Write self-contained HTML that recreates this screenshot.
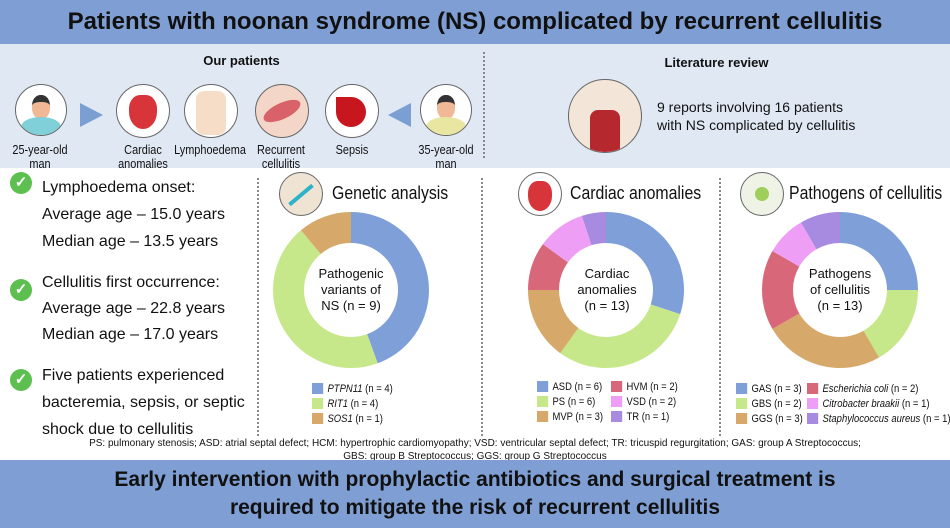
<!DOCTYPE html>
<html><head><meta charset="utf-8">
<style>
*{margin:0;padding:0;box-sizing:border-box}
body{width:950px;height:528px;overflow:hidden;background:#fff;font-family:"Liberation Sans",sans-serif;color:#111;position:relative}
.abs{position:absolute}
.title{left:0;top:0;width:950px;height:44px;background:#7f9fd4;font-weight:bold;font-size:24px;text-align:center;line-height:44px}
.band{left:0;top:44px;width:950px;height:124px;background:#e0e8f4}
.bottom{left:0;top:460px;width:950px;height:68px;background:#7f9fd4;font-weight:bold;font-size:21px;text-align:center;line-height:28px;padding-top:6px}
.circ{border-radius:50%;border:1.5px solid #666;background:#fff;overflow:hidden}
.cap{font-size:13px;text-align:center;line-height:14px;width:90px;transform:scaleX(0.84);white-space:nowrap}
.lt{font-size:16px;left:42px}
.chk{width:22px;height:22px;border-radius:50%;background:#5cbf4f;left:10px;color:#fff;font-weight:bold;font-size:15px;text-align:center;line-height:22px}
.dot{border-left:2px dotted #888}
.sect{font-size:18px;white-space:nowrap;transform:scaleX(0.88);transform-origin:left center}
.leg{font-size:11px;line-height:12px;white-space:nowrap;transform:scaleX(0.86);transform-origin:left top}
.sq{display:inline-block;width:13px;height:11px;vertical-align:-2px;margin-right:5px}
.foot{font-size:10px;text-align:center;width:950px;left:0}
</style></head><body>
<div class="abs title">Patients with noonan syndrome (NS) complicated by recurrent cellulitis</div>
<div class="abs band"></div>
<div class="abs dot" style="left:483px;top:52px;height:106px"></div>
<div class="abs" style="left:0;top:53px;width:483px;text-align:center;font-weight:bold;font-size:13px">Our patients</div>
<div class="abs" style="left:483px;top:55px;width:467px;text-align:center;font-weight:bold;font-size:13px">Literature review</div>

<div class="abs circ" style="left:15px;top:84px;width:52px;height:52px"><div style="margin:10px auto 0;width:18px;height:24px;border-radius:45%;background:#f0b895;border-top:7px solid #333"></div><div style="margin:-2px auto 0;width:40px;height:20px;border-radius:50% 50% 0 0;background:#7fd0d8"></div></div>
<div class="abs cap" style="left:-5px;top:143px">25-year-old<br>man</div>
<div class="abs" style="left:80px;top:103px;width:0;height:0;border-top:12px solid transparent;border-bottom:12px solid transparent;border-left:23px solid #7b9fd3"></div>
<div class="abs circ" style="left:116px;top:84px;width:54px;height:54px;background:#fff"><div style="margin:10px auto;width:28px;height:34px;border-radius:40% 40% 50% 50%;background:#d8353a"></div></div>
<div class="abs cap" style="left:98px;top:143px">Cardiac<br>anomalies</div>
<div class="abs circ" style="left:184px;top:84px;width:54px;height:54px"><div style="margin:6px auto;width:30px;height:44px;background:#f6ddc8;border-radius:8px"></div></div>
<div class="abs cap" style="left:165px;top:143px">Lymphoedema</div>
<div class="abs circ" style="left:255px;top:84px;width:54px;height:54px;background:#f3d6c8"><div style="margin:18px 6px;height:16px;background:#d9616a;border-radius:50%;transform:rotate(-25deg)"></div></div>
<div class="abs cap" style="left:236px;top:143px">Recurrent<br>cellulitis</div>
<div class="abs circ" style="left:325px;top:84px;width:54px;height:54px"><div style="margin:12px 10px;width:30px;height:30px;background:#c8161e;border-radius:0 50% 50% 50%"></div></div>
<div class="abs cap" style="left:307px;top:143px">Sepsis</div>
<div class="abs" style="left:388px;top:103px;width:0;height:0;border-top:12px solid transparent;border-bottom:12px solid transparent;border-right:23px solid #7b9fd3"></div>
<div class="abs circ" style="left:420px;top:84px;width:52px;height:52px"><div style="margin:10px auto 0;width:18px;height:24px;border-radius:45%;background:#f0b895;border-top:7px solid #333"></div><div style="margin:-2px auto 0;width:40px;height:20px;border-radius:50% 50% 0 0;background:#e8e6a0"></div></div>
<div class="abs cap" style="left:401px;top:143px">35-year-old<br>man</div>

<div class="abs circ" style="left:568px;top:79px;width:74px;height:74px;background:#f3e6d8"><div style="margin:30px auto 0;width:30px;height:44px;background:#b5282e;border-radius:8px 8px 0 0"></div></div>
<div class="abs" style="left:657px;top:98px;font-size:14px;line-height:18px">9 reports involving 16 patients<br>with NS complicated by cellulitis</div>

<div class="abs chk" style="top:172px">✓</div>
<div class="abs chk" style="top:279px">✓</div>
<div class="abs chk" style="top:369px">✓</div>
<div class="abs lt" style="top:174px;line-height:27px">Lymphoedema onset:<br>Average age – 15.0 years<br>Median age – 13.5 years</div>
<div class="abs lt" style="top:270px;line-height:26px">Cellulitis first occurrence:<br>Average age – 22.8 years<br>Median age – 17.0 years</div>
<div class="abs lt" style="top:362px;line-height:27px">Five patients experienced<br>bacteremia, sepsis, or septic<br>shock due to cellulitis</div>

<div class="abs dot" style="left:257px;top:178px;height:258px"></div>
<div class="abs dot" style="left:481px;top:178px;height:258px"></div>
<div class="abs dot" style="left:719px;top:178px;height:258px"></div>

<div class="abs circ" style="left:279px;top:172px;width:44px;height:44px;background:#efe3d3"><div style="margin:20px 6px;height:4px;background:#2bb3c9;transform:rotate(-40deg)"></div></div>
<div class="abs sect" style="left:332px;top:183px">Genetic analysis</div>
<div class="abs circ" style="left:518px;top:172px;width:44px;height:44px"><div style="margin:8px auto;width:24px;height:30px;background:#d8353a;border-radius:40% 40% 50% 50%"></div></div>
<div class="abs sect" style="left:570px;top:183px">Cardiac anomalies</div>
<div class="abs circ" style="left:740px;top:172px;width:44px;height:44px;background:#eef3e6"><div style="margin:14px auto;width:14px;height:14px;border-radius:50%;background:#9ecf5a"></div></div>
<div class="abs sect" style="left:789px;top:183px">Pathogens of cellulitis</div>

<svg class="abs" style="left:0;top:0" width="950" height="528" id="charts"></svg>

<div class="abs" style="left:302px;top:266px;width:98px;text-align:center;font-size:13px;line-height:16px">Pathogenic<br>variants of<br>NS (n = 9)</div>
<div class="abs" style="left:557px;top:266px;width:100px;text-align:center;font-size:13px;line-height:16px">Cardiac<br>anomalies<br>(n = 13)</div>
<div class="abs" style="left:790px;top:266px;width:100px;text-align:center;font-size:13px;line-height:16px">Pathogens<br>of cellulitis<br>(n = 13)</div>

<div class="abs leg" style="left:312px;top:382px;line-height:15px">
<div><span class="sq" style="background:#7f9fd8"></span><i>PTPN11</i> (n = 4)</div>
<div><span class="sq" style="background:#c6e88a"></span><i>RIT1</i> (n = 4)</div>
<div><span class="sq" style="background:#d6a96b"></span><i>SOS1</i> (n = 1)</div></div>
<div class="abs leg" style="left:537px;top:380px;line-height:15px">
<div><span class="sq" style="background:#7f9fd8"></span>ASD (n = 6)</div>
<div><span class="sq" style="background:#c6e88a"></span>PS (n = 6)</div>
<div><span class="sq" style="background:#d6a96b"></span>MVP (n = 3)</div></div>
<div class="abs leg" style="left:611px;top:380px;line-height:15px">
<div><span class="sq" style="background:#d9677a"></span>HVM (n = 2)</div>
<div><span class="sq" style="background:#ee9ef5"></span>VSD (n = 2)</div>
<div><span class="sq" style="background:#a68be0"></span>TR (n = 1)</div></div>
<div class="abs leg" style="left:736px;top:382px;line-height:15px">
<div><span class="sq" style="background:#7f9fd8"></span>GAS (n = 3)</div>
<div><span class="sq" style="background:#c6e88a"></span>GBS (n = 2)</div>
<div><span class="sq" style="background:#d6a96b"></span>GGS (n = 3)</div></div>
<div class="abs leg" style="left:807px;top:382px;line-height:15px">
<div><span class="sq" style="background:#d9677a"></span><i>Escherichia coli</i> (n = 2)</div>
<div><span class="sq" style="background:#ee9ef5"></span><i>Citrobacter braakii</i> (n = 1)</div>
<div><span class="sq" style="background:#a68be0"></span><i>Staphylococcus aureus</i> (n = 1)</div></div>

<div class="abs foot" style="top:437px;line-height:13px">PS: pulmonary stenosis; ASD: atrial septal defect; HCM: hypertrophic cardiomyopathy; VSD: ventricular septal defect; TR: tricuspid regurgitation; GAS: group A Streptococcus;<br>GBS: group B Streptococcus; GGS: group G Streptococcus</div>

<div class="abs bottom">Early intervention with prophylactic antibiotics and surgical treatment is<br>required to mitigate the risk of recurrent cellulitis</div>

<script>
const geneticCategories = ["PTPN11","RIT1","SOS1"];
const geneticValues = [4,4,1];
const cardiacCategories = ["ASD","PS","MVP","HVM","VSD","TR"];
const cardiacValues = [6,6,3,2,2,1];
const pathogenCategories = ["GAS","GBS","GGS","Escherichia coli","Citrobacter braakii","Staphylococcus aureus"];
const pathogenValues = [3,2,3,2,1,1];
const palette = ["#7f9fd8","#c6e88a","#d6a96b","#d9677a","#ee9ef5","#a68be0"];
const svg = document.getElementById('charts');
const NS = "http://www.w3.org/2000/svg";
function pt(cx,cy,r,a){return [cx+r*Math.sin(a), cy-r*Math.cos(a)];}
function donut(cx,cy,ro,ri,cats,vals,name){
  const total = vals.reduce((s,v)=>s+v,0);
  let a0 = 0;
  vals.forEach((v,i)=>{
    const a1 = a0 + v/total*2*Math.PI;
    const large = (a1-a0)>Math.PI?1:0;
    const p1=pt(cx,cy,ro,a0),p2=pt(cx,cy,ro,a1),p3=pt(cx,cy,ri,a1),p4=pt(cx,cy,ri,a0);
    const d=`M${p1[0]},${p1[1]} A${ro},${ro} 0 ${large} 1 ${p2[0]},${p2[1]} L${p3[0]},${p3[1]} A${ri},${ri} 0 ${large} 0 ${p4[0]},${p4[1]} Z`;
    const path=document.createElementNS(NS,'path');
    path.setAttribute('d',d);
    path.setAttribute('fill',palette[i]);
    
    
    svg.appendChild(path);
    a0=a1;
  });
}
donut(351,290,78,47,geneticCategories,geneticValues,'genetic');
donut(606,290,78,47,cardiacCategories,cardiacValues,'cardiac');
donut(840,290,78,47,pathogenCategories,pathogenValues,'pathogens');
</script>
</body></html>
